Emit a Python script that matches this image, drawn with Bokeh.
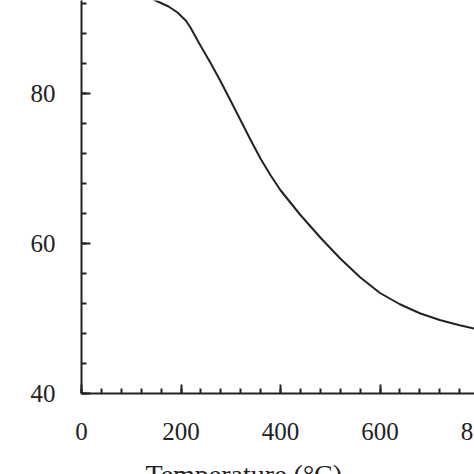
from bokeh.plotting import figure
from bokeh.models import FixedTicker, Range1d, Title
from bokeh.embed import file_html
from bokeh.resources import INLINE

# Data (temperature in °C, weight in %)
temperature = [100, 149, 175, 193, 210, 219, 239, 260, 279, 300, 320, 340, 360, 380,
               400, 440, 480, 520, 560, 600, 640, 680, 720, 760, 800]
weight = [93.9, 92.4, 91.6, 90.8, 89.7, 88.8, 86.4, 84.0, 81.7, 79.0, 76.4, 73.8, 71.3, 69.1,
          67.1, 63.8, 60.8, 58.0, 55.5, 53.4, 51.9, 50.7, 49.8, 49.1, 48.5]

x_major = [0, 200, 400, 600, 800]
x_minor = [v for v in range(0, 840, 40)]
y_major = [40, 60, 80]
y_minor = [v for v in range(40, 100, 4)]
x_title = "Temperature (°C)"

FONT = "Liberation Serif"
INK = "#222222"

p = figure(frame_width=398, frame_height=393, output_backend="svg", toolbar_location=None,
           x_range=Range1d(0, 800), y_range=Range1d(40, 92.4),
           min_border_left=81, min_border_right=24, min_border_top=0, min_border_bottom=0)
p.outline_line_color = None
p.grid.visible = False
p.background_fill_color = "white"
p.border_fill_color = "white"

p.line(temperature, weight, line_color=INK, line_width=2)

for ax, maj, mino in ((p.xaxis, x_major, x_minor), (p.yaxis, y_major, y_minor)):
    ax.ticker = FixedTicker(ticks=maj, minor_ticks=mino)
    ax.axis_line_color = INK
    ax.axis_line_width = 2
    ax.major_tick_line_color = INK
    ax.major_tick_line_width = 2
    ax.minor_tick_line_color = INK
    ax.minor_tick_line_width = 2
    ax.major_tick_in = 9
    ax.major_tick_out = 0
    ax.minor_tick_in = 5
    ax.minor_tick_out = 0
    ax.major_label_text_font = FONT
    ax.major_label_text_font_size = "25px"
    ax.major_label_text_color = INK

p.yaxis.bounds = (40, 100)
p.yaxis.major_label_standoff = 26
p.xaxis.major_label_standoff = 29

p.add_layout(Title(text=x_title, align="left", offset=64, standoff=28,
                   text_font=FONT, text_font_size="28px", text_font_style="normal",
                   text_color=INK), "below")

open("out.html", "w").write(file_html(p, INLINE))
